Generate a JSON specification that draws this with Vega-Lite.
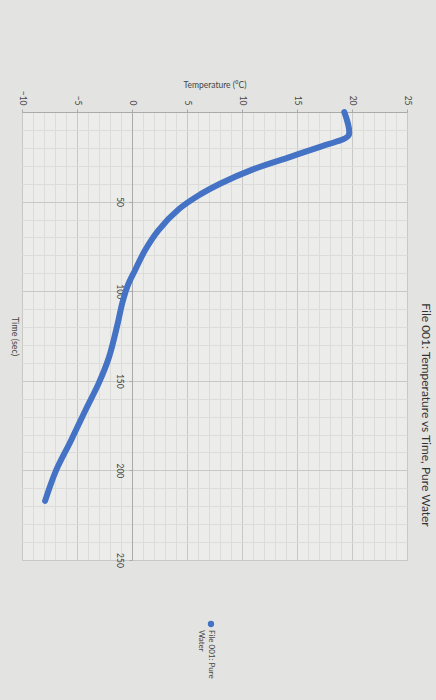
{
  "$schema": "https://vega.github.io/schema/vega-lite/v6.json",
  "width": 385,
  "height": 448,
  "autosize": "none",
  "padding": {"left": 22, "top": 112, "right": 29, "bottom": 140},
  "background": "#e3e3e1",
  "config": {
    "font": "Lato",
    "view": {"fill": "#ecECea", "stroke": "#aaaaaa", "strokeWidth": 1}
  },
  "title": {
    "text": "File 001: Temperature vs Time, Pure Water",
    "orient": "right",
    "angle": 90,
    "anchor": "middle",
    "offset": 8,
    "dx": 79,
    "fontSize": 12,
    "fontWeight": "normal",
    "color": "#333333"
  },
  "data": {
    "values": [
      {"time": 0, "temp": 19.3},
      {"time": 13, "temp": 19.7},
      {"time": 16.5, "temp": 18.6},
      {"time": 19, "temp": 17.3},
      {"time": 25, "temp": 14.4},
      {"time": 32, "temp": 11.0},
      {"time": 40, "temp": 8.0},
      {"time": 46, "temp": 6.2},
      {"time": 54, "temp": 4.3},
      {"time": 66, "temp": 2.4},
      {"time": 77, "temp": 1.2},
      {"time": 88, "temp": 0.3},
      {"time": 97, "temp": -0.4},
      {"time": 107, "temp": -0.9},
      {"time": 118, "temp": -1.3},
      {"time": 137, "temp": -2.1},
      {"time": 151, "temp": -3.0},
      {"time": 166, "temp": -4.2},
      {"time": 184, "temp": -5.6},
      {"time": 200, "temp": -6.9},
      {"time": 217, "temp": -7.9}
    ]
  },
  "resolve": {"axis": {"x": "independent", "y": "independent"}},
  "layer": [
    {
      "mark": {"type": "line", "opacity": 0},
      "encoding": {
        "x": {
          "field": "temp", "type": "quantitative",
          "scale": {"domain": [-10, 25], "nice": false, "zero": false},
          "axis": {"orient": "bottom", "tickCount": 35, "grid": true, "gridColor": "#dcdcdb", "labels": false, "ticks": false, "domain": false, "title": null}
        },
        "y": {
          "field": "time", "type": "quantitative",
          "scale": {"domain": [0, 250], "nice": false, "reverse": true},
          "axis": {"orient": "right", "tickCount": 25, "grid": true, "gridColor": "#dcdcdb", "labels": false, "ticks": false, "domain": false, "title": null}
        }
      }
    },
    {
      "mark": {"type": "line", "opacity": 0},
      "encoding": {
        "x": {
          "field": "temp", "type": "quantitative",
          "axis": {
            "orient": "top", "values": [-10, -5, 0, 5, 10, 15, 20, 25],
            "grid": true, "gridColor": "#c8c8c7",
            "domain": true, "domainColor": "#aaaaaa",
            "ticks": true, "tickSize": 3, "tickColor": "#aaaaaa",
            "labelAngle": 90, "labelAlign": "right", "labelBaseline": "middle",
            "labelPadding": 4, "labelFontSize": 8.5, "labelColor": "#444444",
            "title": "Temperature (°C)", "titleFontSize": 8.5, "titleFontWeight": "normal",
            "titleColor": "#444444", "titlePadding": 1
          }
        },
        "y": {
          "field": "time", "type": "quantitative",
          "axis": {"orient": "left", "values": [0, 50, 100, 150, 200, 250], "grid": true, "gridColor": "#c8c8c7", "labels": false, "ticks": false, "domain": false, "title": null}
        }
      }
    },
    {
      "mark": {"type": "line", "strokeWidth": 6, "strokeCap": "round", "strokeJoin": "round", "interpolate": "catmull-rom"},
      "encoding": {
        "x": {"field": "temp", "type": "quantitative", "axis": null},
        "y": {
          "field": "time", "type": "quantitative",
          "axis": {
            "orient": "left", "offset": -110, "values": [50, 100, 150, 200, 250],
            "grid": false, "domain": true, "domainColor": "#aaaaaa",
            "ticks": true, "tickSize": 3, "tickColor": "#aaaaaa",
            "labelAngle": 90, "labelAlign": "center", "labelBaseline": "top",
            "labelPadding": 6, "labelFontSize": 8.5, "labelColor": "#444444",
            "title": "Time (sec)", "titleAngle": 90, "titleBaseline": "top",
            "titleFontSize": 9, "titleFontWeight": "normal", "titleColor": "#444444",
            "titlePadding": 96
          }
        },
        "order": {"field": "time", "type": "quantitative"},
        "color": {
          "datum": "File 001: Pure Water", "type": "nominal",
          "scale": {"range": ["#4472c4"]},
          "legend": {
            "title": null, "orient": "none", "legendX": 185, "legendY": 508,
            "symbolType": "circle", "symbolSize": 40, "symbolFillColor": "#4472c4",
            "labelFontSize": 8, "labelColor": "#444444",
            "labelExpr": "['File 001: Pure', 'Water']",
            "encode": {
              "labels": {"update": {"angle": {"value": 90}, "align": {"value": "left"}, "baseline": {"value": "middle"}, "dx": {"value": 6}, "dy": {"value": 8}}},
              "symbols": {"update": {"fill": {"value": "#4472c4"}, "strokeWidth": {"value": 0}}}
            }
          }
        }
      }
    }
  ]
}
